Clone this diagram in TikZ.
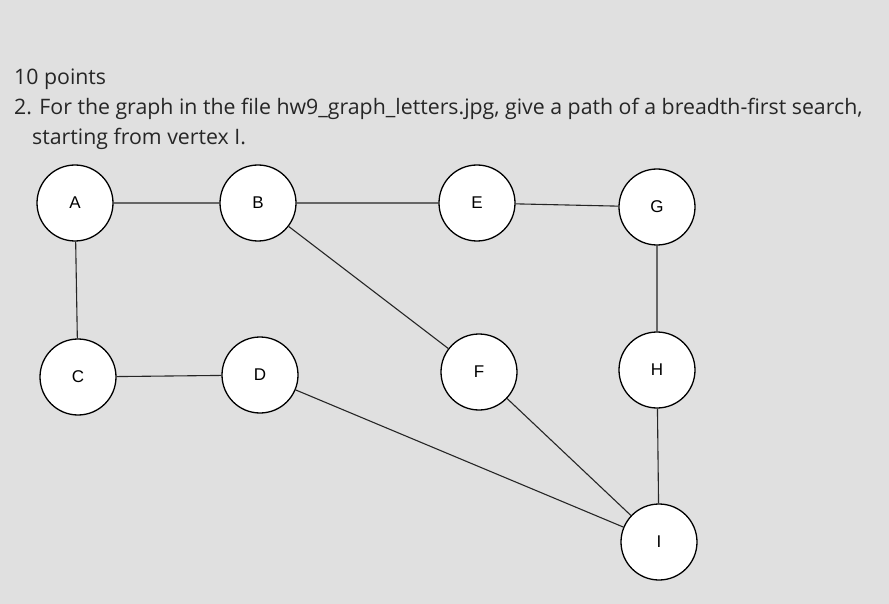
\documentclass[tikz,border=0pt]{standalone}
\usepackage{fontspec}
\setmainfont{Open Sans}
\newfontfamily\lab{Liberation Sans}
\begin{document}
\begin{tikzpicture}[x=1pt,y=-1pt,
  vtx/.style={circle,draw=black,line width=1.3pt,fill=white,minimum size=76pt,inner sep=0pt,font=\lab\fontsize{17}{19}\selectfont},
  edge/.style={line width=1.1pt,draw=black!85},
  txt/.style={anchor=west,inner sep=0pt,font=\fontsize{21.3}{24}\selectfont,text=black!85}]
\fill[black!12] (0,0) rectangle (889,604);
\useasboundingbox (0,0) rectangle (889,604);
\node[txt] (t1) at (14,79) {10 points};
\node[txt] (t2) at (14,109) {2. For the graph in the file hw9\_graph\_letters.jpg, give a path of a breadth-first search,};
\node[txt] (t3) at (32,139) {starting from vertex I.};
\node[vtx] (A) at (75,203) {A};
\node[vtx] (B) at (258,203) {B};
\node[vtx] (E) at (477,203) {E};
\node[vtx] (G) at (657,207) {G};
\node[vtx] (C) at (78,377) {C};
\node[vtx] (D) at (260,375) {D};
\node[vtx] (F) at (479,372) {F};
\node[vtx] (H) at (657,370) {H};
\node[vtx] (I) at (659,542) {I};
\draw[edge] (A)--(B) (B)--(E) (E)--(G) (A)--(C) (C)--(D) (B)--(F) (D)--(I) (F)--(I) (G)--(H) (H)--(I);
\end{tikzpicture}
\end{document}
